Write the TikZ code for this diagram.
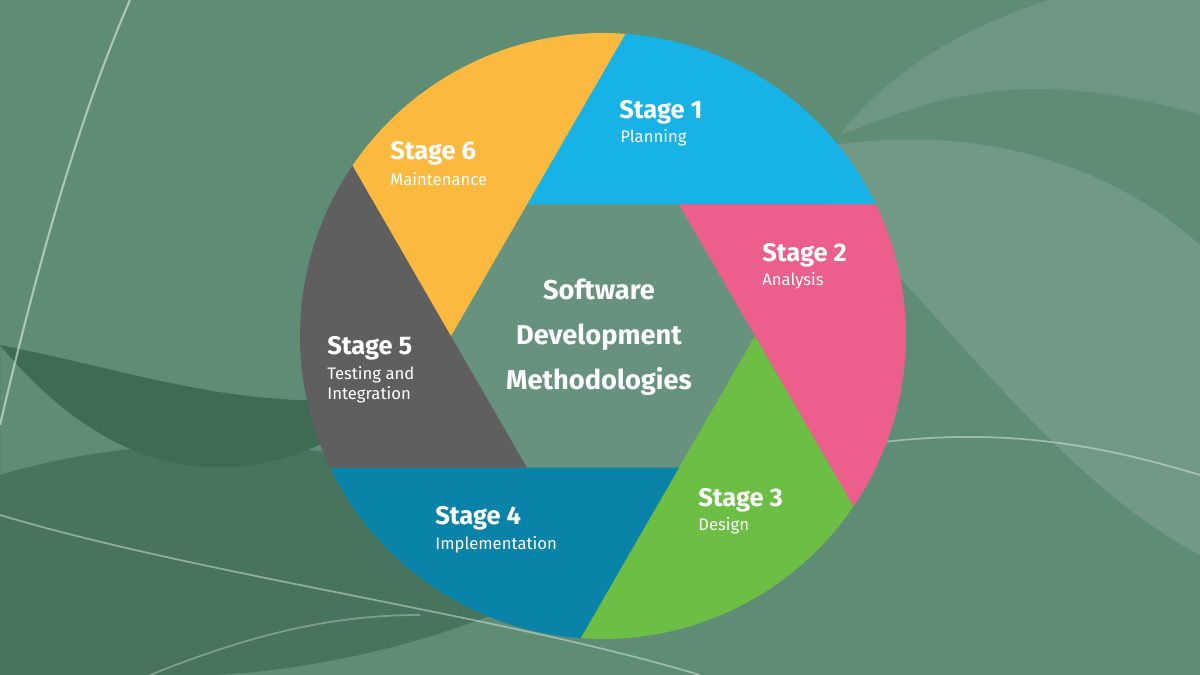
\documentclass[tikz,border=0pt]{standalone}
\usepackage{fontspec}
\setmainfont{Fira Sans}
\begin{document}
\begin{tikzpicture}[x=0.02cm,y=0.02cm,
  stg/.style={anchor=west,text=white,font=\fontsize{14.5}{16}\selectfont\bfseries,inner sep=0},
  sub/.style={anchor=west,text=white,font=\fontsize{9.5}{11.5}\selectfont,inner sep=0,align=left},
  seg/.style={draw=none}]
\definecolor{bgA}{HTML}{5E8C75}
\definecolor{bgB}{HTML}{3F6B55}
\definecolor{cBlue}{HTML}{17B3E6}
\definecolor{cPink}{HTML}{EC5E8B}
\definecolor{cGreen}{HTML}{6DBE45}
\definecolor{cDBlue}{HTML}{0A83A8}
\definecolor{cGrey}{HTML}{5F5F5F}
\definecolor{cYellow}{HTML}{FBB940}
\useasboundingbox (0,0) rectangle (1200,675);
\fill[bgA] (0,0) rectangle (1200,675);
\fill[bgB] (0,0) -- (0,330) .. controls (150,300) and (250,260) .. (400,280) .. controls (300,200) and (150,150) .. (0,330) -- cycle;
\fill[bgB,opacity=0.7] (0,0) -- (0,200) .. controls (200,260) and (450,230) .. (600,120) .. controls (500,40) and (300,0) .. (200,0) -- cycle;
\fill[white,opacity=0.12] (780,520) .. controls (950,560) and (1100,520) .. (1200,430) -- (1200,120) .. controls (1050,200) and (950,360) .. (780,520) -- cycle;
\fill[white,opacity=0.1] (1200,675) -- (1200,560) .. controls (1000,620) and (900,560) .. (840,540) .. controls (900,620) and (1000,660) .. (1050,675) -- cycle;
\draw[white,opacity=0.5,line width=1.2pt] (0,250) .. controls (40,420) and (80,560) .. (130,675);
\draw[white,opacity=0.4,line width=1pt] (0,160) .. controls (200,100) and (500,60) .. (700,0);
\draw[white,opacity=0.4,line width=1pt] (860,230) .. controls (1000,250) and (1100,230) .. (1200,200);
\draw[white,opacity=0.3,line width=1pt] (150,0) .. controls (250,40) and (330,60) .. (420,60);
\begin{scope}[shift={(603,339)}]
\coordinate (C) at (0,0);
\foreach \a in {0,60,...,300} {\coordinate (V\a) at (\a:152);}
\fill[cBlue] (V120) -- (85.75:303) arc[start angle=85.75,end angle=25.75,radius=303] -- (V60) -- cycle;
\fill[cPink] (V60) -- (25.75:303) arc[start angle=25.75,end angle=-34.25,radius=303] -- (V0) -- cycle;
\fill[cGreen] (V0) -- (-34.25:303) arc[start angle=-34.25,end angle=-94.25,radius=303] -- (V300) -- cycle;
\fill[cDBlue] (V300) -- (-94.25:303) arc[start angle=-94.25,end angle=-154.25,radius=303] -- (V240) -- cycle;
\fill[cGrey] (V240) -- (-154.25:303) arc[start angle=-154.25,end angle=-214.25,radius=303] -- (V180) -- cycle;
\fill[cYellow] (V180) -- (145.75:303) arc[start angle=145.75,end angle=85.75,radius=303] -- (V120) -- cycle;
\fill[white,opacity=0.06] (V0) -- (V60) -- (V120) -- (V180) -- (V240) -- (V300) -- cycle;
\end{scope}
\node[stg] (s1) at (619,563) {Stage 1};
\node[sub] (p1) at (620,537) {Planning};
\node[stg] (s2) at (762,420) {Stage 2};
\node[sub] (p2) at (762,394) {Analysis};
\node[stg] (s3) at (698,175) {Stage 3};
\node[sub] (p3) at (698,149) {Design};
\node[stg] (s4) at (435,157) {Stage 4};
\node[sub] (p4) at (435,130) {Implementation};
\node[stg] (s5) at (327,327) {Stage 5};
\node[sub] (p5) at (327,290) {Testing and\\Integration};
\node[stg] (s6) at (390,522) {Stage 6};
\node[sub] (p6) at (390,496) {Maintenance};
\node[text=white,align=center,font=\fontsize{15.5}{25.5}\selectfont\bfseries] (ct) at (599,338) {Software\\Development\\Methodologies};
\end{tikzpicture}
\end{document}
